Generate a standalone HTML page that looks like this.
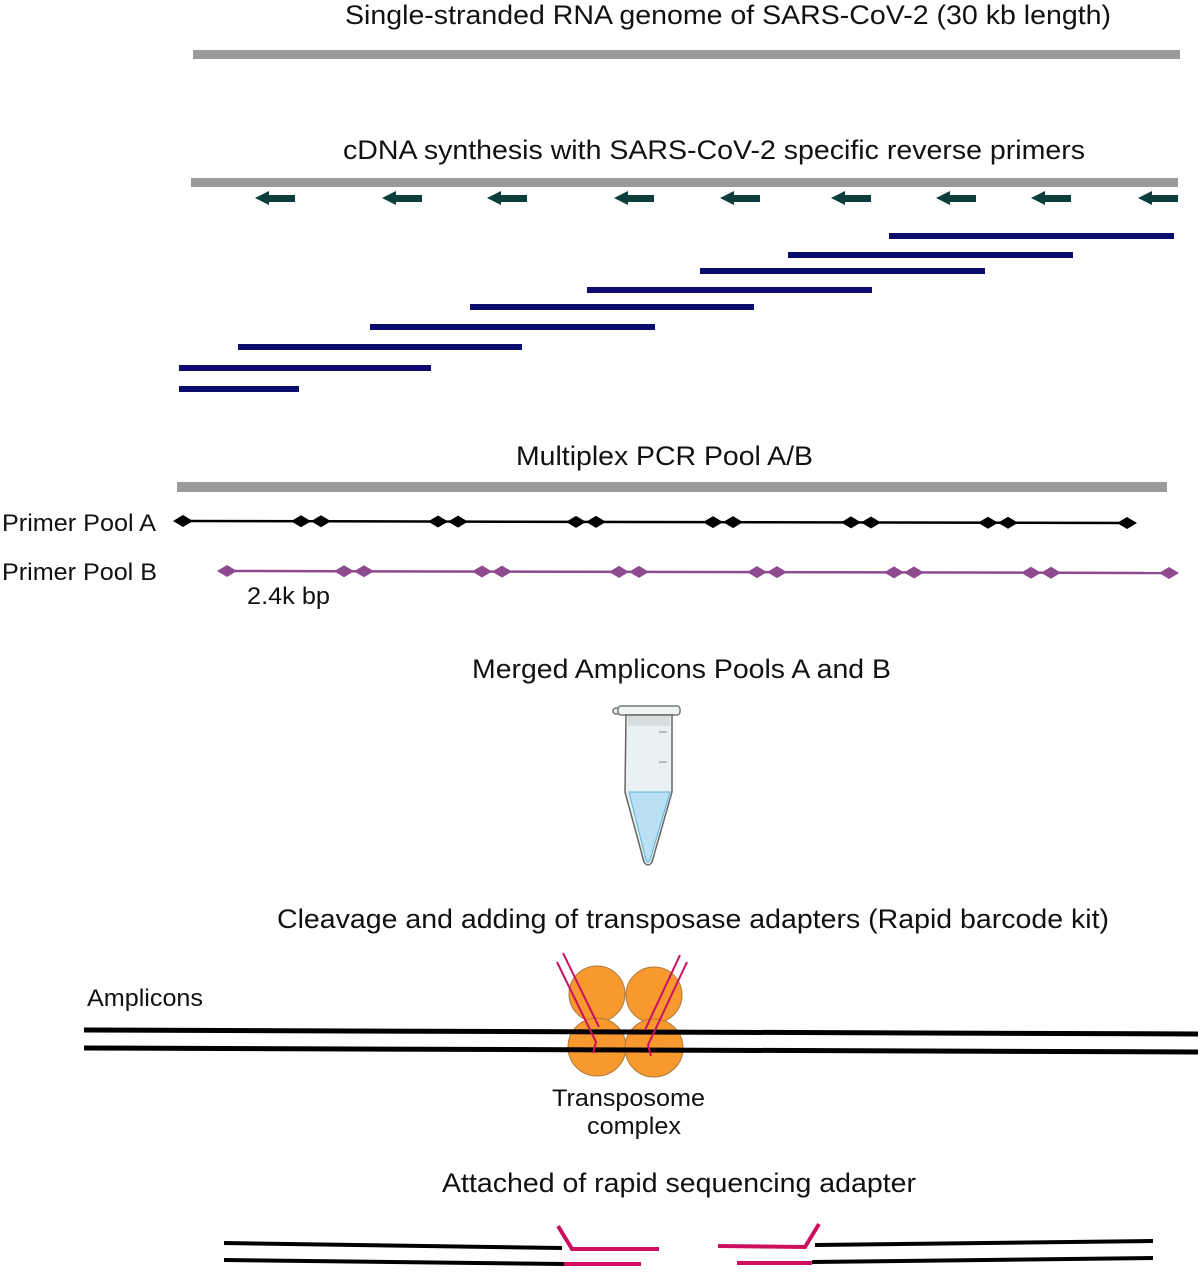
<!DOCTYPE html>
<html><head><meta charset="utf-8"><style>
body{margin:0;background:#fff}
svg text{font-family:"Liberation Sans",sans-serif;fill:#111}
</style></head><body>
<svg width="1200" height="1271" viewBox="0 0 1200 1271">
<text x="345" y="24" font-size="27" textLength="766" lengthAdjust="spacingAndGlyphs">Single-stranded RNA genome of SARS-CoV-2 (30 kb length)</text>
<rect x="193" y="50" width="987" height="9" fill="#9a9a9a"/>
<text x="343" y="159" font-size="27" textLength="742" lengthAdjust="spacingAndGlyphs">cDNA synthesis with SARS-CoV-2 specific reverse primers</text>
<rect x="191" y="178" width="987" height="9" fill="#9a9a9a"/>
<g id="arrows"></g>
<g id="bars"></g>
<text x="516" y="465" font-size="27" textLength="297" lengthAdjust="spacingAndGlyphs">Multiplex PCR Pool A/B</text>
<rect x="177" y="482" width="990" height="10" fill="#9a9a9a"/>
<text x="2" y="531" font-size="24" textLength="154" lengthAdjust="spacingAndGlyphs">Primer Pool A</text>
<text x="2" y="580" font-size="24" textLength="155" lengthAdjust="spacingAndGlyphs">Primer Pool B</text>
<line x1="183" y1="521" x2="1127" y2="523" stroke="#000" stroke-width="2.5"/>
<line x1="227" y1="571" x2="1169" y2="573" stroke="#8e4a8e" stroke-width="2.5"/>
<g id="dA"></g>
<g id="dB"></g>
<text x="247" y="604" font-size="24" textLength="83" lengthAdjust="spacingAndGlyphs">2.4k bp</text>
<text x="472" y="678" font-size="27" textLength="419" lengthAdjust="spacingAndGlyphs">Merged Amplicons Pools A and B</text>
<g>
<rect x="613" y="708" width="42" height="6" rx="3" fill="#e8eeee" stroke="#777" stroke-width="1.5"/>
<rect x="618" y="706" width="62" height="9" rx="3" fill="#eef3f3" stroke="#777" stroke-width="1.5"/>
<path d="M626 715 L672 715 L672 792 L652 862 Q648 868 644 862 L625 792 Z" fill="#eaf1f2" stroke="#666" stroke-width="1.5"/>
<rect x="628" y="716" width="42" height="10" fill="#d6dede"/>
<path d="M629 792 L670 792 L650 860 Q648 864 646 860 Z" fill="#b9e0f3" stroke="#5bb0d6" stroke-width="1"/>
<line x1="659" y1="732" x2="667" y2="732" stroke="#888"/><line x1="659" y1="762" x2="667" y2="762" stroke="#888"/>
</g>
<text x="277" y="928" font-size="27" textLength="832" lengthAdjust="spacingAndGlyphs">Cleavage and adding of transposase adapters (Rapid barcode kit)</text>
<text x="87" y="1006" font-size="24" textLength="116" lengthAdjust="spacingAndGlyphs">Amplicons</text>
<g fill="#f7992f" stroke="#b07a3a" stroke-width="1">
<circle cx="597" cy="994" r="28"/><circle cx="654" cy="995" r="28"/>
<circle cx="597" cy="1047" r="29"/><circle cx="654" cy="1048" r="29"/>
</g>
<line x1="84" y1="1030" x2="1198" y2="1034" stroke="#000" stroke-width="5"/>
<line x1="84" y1="1048" x2="1198" y2="1052" stroke="#000" stroke-width="5"/>
<g fill="none" stroke="#cc0f5f" stroke-width="2">
<polyline points="557,962 596,1042 593,1053"/><polyline points="563,953 599,1027"/>
<polyline points="687,962 648,1045 651,1056"/><polyline points="680,955 645,1030"/>
</g>
<text x="552" y="1106" font-size="24" textLength="153" lengthAdjust="spacingAndGlyphs">Transposome</text>
<text x="587" y="1134" font-size="24" textLength="94" lengthAdjust="spacingAndGlyphs">complex</text>
<text x="442" y="1192" font-size="27" textLength="474" lengthAdjust="spacingAndGlyphs">Attached of rapid sequencing adapter</text>
<g stroke-width="4" fill="none">
<line x1="224" y1="1243" x2="562" y2="1248" stroke="#000"/>
<line x1="224" y1="1260" x2="564" y2="1264" stroke="#000"/>
<polyline points="558,1226 572,1249 659,1249" stroke="#cc0f5f"/>
<line x1="564" y1="1264" x2="641" y2="1264" stroke="#cc0f5f"/>
<polyline points="718,1246 805,1247 819,1224" stroke="#cc0f5f"/>
<line x1="815" y1="1245" x2="1153" y2="1241" stroke="#000"/>
<line x1="737" y1="1263" x2="812" y2="1263" stroke="#cc0f5f"/>
<line x1="812" y1="1262" x2="1153" y2="1258" stroke="#000"/>
</g>
</svg>
<script>
const arrowStarts=[255,382,487,614,720,831,936,1031,1138];
const fragStart=[889,788,700,587,470,370,238,179,179];
const fragEnd=[1174,1073,985,872,754,655,522,431,299];
const fragY=[236,255,271,290,307,327,347,368,389];
const poolA=[183,301,321,438,458,576,596,713,733,851,871,988,1008,1127];
const poolB=[227,344,364,482,502,619,639,757,777,894,914,1031,1051,1169];
const NS='http://www.w3.org/2000/svg';
function mk(t,a){const e=document.createElementNS(NS,t);for(const k in a)e.setAttribute(k,a[k]);return e;}
const ga=document.getElementById('arrows');
arrowStarts.forEach(x=>{
 const p=mk('path',{d:`M${x} 198 L${x+14} 191 L${x+14} 195 L${x+40} 195 L${x+40} 202 L${x+14} 202 L${x+14} 205 Z`,fill:'#0d3d3d'});
 
 
 ga.appendChild(p);});
const gb=document.getElementById('bars');
fragStart.forEach((s,i)=>{
 const r=mk('rect',{x:s,y:fragY[i]-3,width:fragEnd[i]-s,height:6,fill:'#0c0c6e'});
 
 
 gb.appendChild(r);});
function dia(g,xs,y0,y1,c){xs.forEach((x,i)=>{const y=y0+(y1-y0)*(x-xs[0])/(xs[xs.length-1]-xs[0]);
 const d=mk('path',{d:`M${x-10} ${y} L${x} ${y-6} L${x+10} ${y} L${x} ${y+6} Z`,fill:c});
 
 
 g.appendChild(d);});}
dia(document.getElementById('dA'),poolA,521,523,'#000');
dia(document.getElementById('dB'),poolB,571,573,'#8e4a8e');
</script>
</body></html>
